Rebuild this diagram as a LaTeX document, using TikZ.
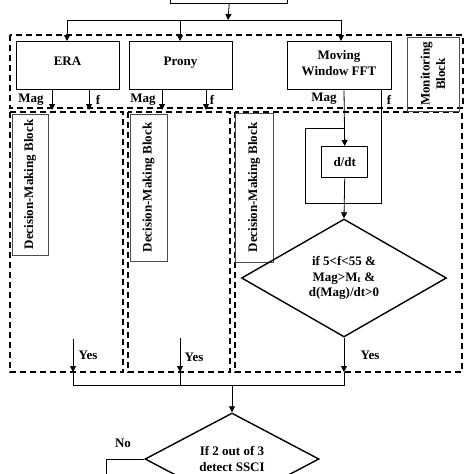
\documentclass[tikz,border=0pt]{standalone}
\usepackage{fontspec}
\setmainfont{Liberation Serif}
\usetikzlibrary{arrows.meta,shapes.geometric}
\begin{document}
\begin{tikzpicture}[x=1pt,y=-1pt,
  every node/.style={font=\fontsize{13}{15.5}\selectfont\bfseries},
  mainbox/.style={draw,line width=1.4pt,inner sep=0,anchor=north west},
  thinbox/.style={draw=black!70,line width=0.8pt,inner sep=0,anchor=center,rotate=90,align=center},
  dashbox/.style={draw,line width=1.5pt,dash pattern=on 6pt off 4pt},
  conn/.style={line width=0.8pt},
  arr/.style={conn,-{Triangle[length=6pt,width=6pt]}},
  lbl/.style={inner sep=0},
  dia/.style={diamond,draw,line width=1.4pt,inner sep=0}]
\useasboundingbox (0,0) rectangle (474,474);
\clip (0,0) rectangle (474,474);

% dashed frames
\draw[dashbox] (10,35) rectangle (463,108);
\draw[dashbox] (10,112) rectangle (123,372);
\draw[dashbox] (128,112) rectangle (230,372);
\draw[dashbox] (235,112) rectangle (462,372);

% boxes
\node[mainbox,anchor=south west,minimum width=117,minimum height=40] (top) at (170,4) {};
\node[mainbox,minimum width=103,minimum height=48] (era) at (16,41) {};
\node[mainbox,minimum width=103,minimum height=48] (prony) at (129,41) {};
\node[mainbox,minimum width=104,minimum height=48] (fft) at (287,41) {};
\node[lbl,anchor=base] (erat) at (67.5,65.5) {ERA};
\node[lbl,anchor=base] (pronyt) at (180.5,65.5) {Prony};
\node[lbl,align=center] (fftt) at (339,63) {Moving\\Window FFT};
\node[thinbox,minimum width=74,minimum height=52] (mb) at (433,74) {Monitoring\\Block};
\node[thinbox,minimum width=141,minimum height=36] (dm1) at (30,184.5) {Decision-Making Block};
\node[thinbox,minimum width=147,minimum height=37] (dm2) at (148.5,187.5) {Decision-Making Block};
\node[thinbox,minimum width=149,minimum height=38] (dm3) at (254,187.5) {Decision-Making Block};
\node[mainbox,minimum width=46,minimum height=31] (ddt) at (321,146) {d/dt};
\node[dia,minimum width=205,minimum height=118] (d1) at (344,278) {};
\node[align=center,lbl] (d1t) at (344,278) {if 5<f<55 \&\\Mag>M\textsubscript{t} \&\\d(Mag)/dt>0};
\node[dia,minimum width=174,minimum height=92] (d2) at (232,459) {};
\node[align=center,lbl] (d2t) at (232,459) {If 2 out of 3\\detect SSCI};

% top distribution
\coordinate (tj) at (228,20);
\coordinate (hl) at (67,20);
\coordinate (hm) at (180,20);
\coordinate (hr) at (341,20);
\draw[arr] (top.south) -- (tj);
\draw[conn] (hl) -- (hr);
\draw[arr] (hl) -- (hl |- era.north);
\draw[arr] (hm) -- (hm |- prony.north);
\draw[arr] (hr) -- (hr |- fft.north);

% Mag / f outputs
\coordinate (eramag) at (52,110);
\coordinate (eraf) at (89,110);
\coordinate (prmag) at (162,110);
\coordinate (prf) at (206,110);
\draw[arr] (eramag |- era.south) -- (eramag);
\draw[arr] (eraf |- era.south) -- (eraf);
\draw[arr] (prmag |- prony.south) -- (prmag);
\draw[arr] (prf |- prony.south) -- (prf);
\node[lbl] (l1) at (31,100) {Mag};
\node[lbl] (l2) at (98,100) {f};
\node[lbl] (l3) at (143,100) {Mag};
\node[lbl] (l4) at (212,100) {f};
\node[lbl] (l5) at (324,99) {Mag};
\node[lbl] (l6) at (389,100) {f};

% FFT branch
\coordinate (fm) at (344,89);
\coordinate (ff) at (381,89);
\coordinate (br) at (344,128);
\coordinate (lp1) at (305,128);
\coordinate (lp2) at (305,203);
\coordinate (mrg) at (344,203);
\coordinate (fc) at (381,203);
\draw[arr] (fm) -- (ddt.north);
\draw[conn] (br) -- (lp1) -- (lp2) -- (mrg);
\draw[conn] (ff) -- (fc) -- (mrg);
\draw[arr] (ddt.south) -- (d1.north);

% Yes outputs
\coordinate (y1s) at (73,339);
\coordinate (y1e) at (73,372);
\coordinate (y2s) at (180,338);
\coordinate (y2e) at (180,372);
\coordinate (y3e) at (344,372);
\coordinate (b1) at (73,385);
\coordinate (b2) at (180,385);
\coordinate (b3) at (344,385);
\coordinate (bm) at (232,385);
\draw[arr] (y1s) -- (y1e);
\draw[arr] (y2s) -- (y2e);
\draw[arr] (d1.south) -- (y3e);
\draw[conn] (y1e) -- (b1) -- (b3) -- (y3e);
\draw[conn] (y2e) -- (b2);
\draw[arr] (bm) -- (d2.north);
\node[lbl] (yes1) at (88,355) {Yes};
\node[lbl] (yes2) at (194,357) {Yes};
\node[lbl] (yes3) at (370,355) {Yes};

% No branch
\coordinate (nc) at (106,459);
\coordinate (nd) at (106,490);
\draw[conn] (d2.west) -- (nc) -- (nd);
\node[lbl] (no) at (123,443) {No};
\end{tikzpicture}
\end{document}
